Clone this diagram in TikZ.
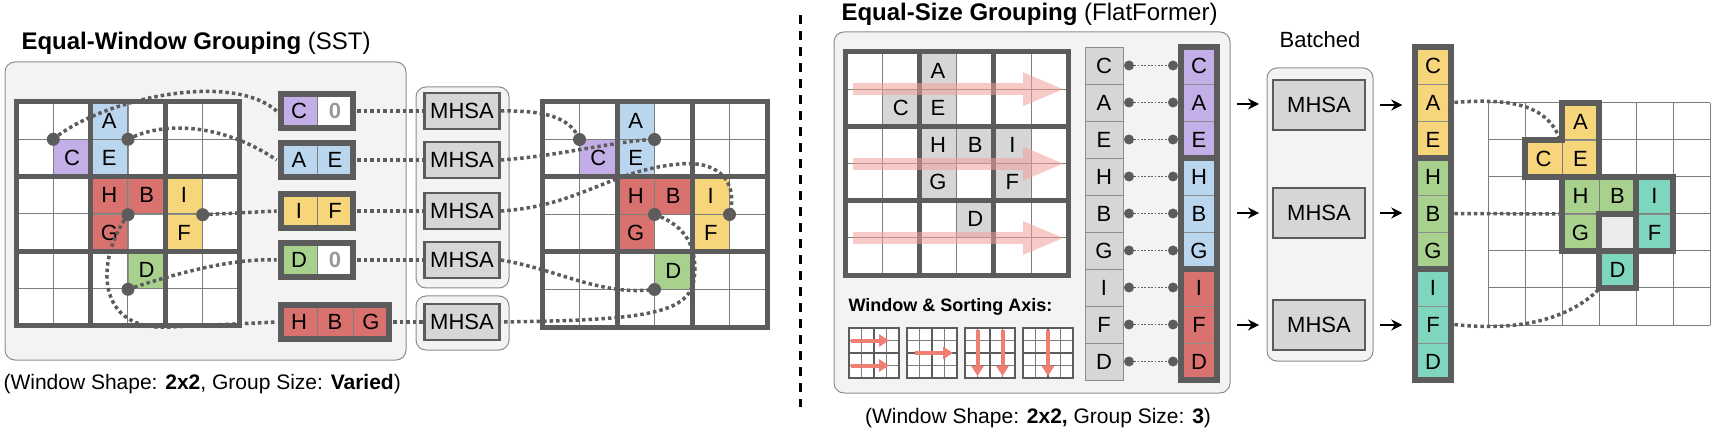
\documentclass[tikz,border=0pt]{standalone}
\usepackage{fontspec}
\setmainfont{Liberation Sans}
\usetikzlibrary{arrows.meta}
\definecolor{cpur}{HTML}{C3AEE8}
\definecolor{cblu}{HTML}{BAD5EE}
\definecolor{cred}{HTML}{D9726F}
\definecolor{cyel}{HTML}{F7D57A}
\definecolor{cgrn}{HTML}{A9D18E}
\definecolor{cteal}{HTML}{7FD6BF}
\definecolor{cgray}{HTML}{D6D6D6}
\definecolor{cdark}{HTML}{5C5C5C}
\definecolor{cpanel}{HTML}{F3F3F3}
\definecolor{carrow}{HTML}{F4A09A}
\definecolor{carr2}{HTML}{EE7F72}
\newcommand\fsz[1]{\fontsize{#1}{#1}\selectfont}
\tikzset{
 cellnode/.style={draw=cdark!70,line width=0.8,inner sep=0,font=\fsz{22}},
 gdot/.style={circle,fill=cdark,inner sep=0,minimum size=13},
 sdot/.style={circle,fill=cdark,inner sep=0,minimum size=10},
 conn/.style={draw=cdark,line width=3.5,dash pattern=on 3.5 off 3},
 fconn/.style={draw=cdark,line width=1.8,dash pattern=on 1.8 off 1.6},
 mhsa/.style={draw=cdark,line width=2.5,fill=cgray,minimum width=75,minimum height=36,inner sep=0,font=\fsz{22}},
 panel/.style={draw=cdark!70,line width=1,fill=cpanel,rounded corners=10},
 thickb/.style={draw=cdark,line width=6},
 smarr/.style={-{Stealth[length=11,width=11]},line width=2.4},
}
\newcommand\tcell[8]{\node[cellnode,fill=#6,minimum width=#3,minimum height=#3] (#8) at ({#1+(#4+0.5)*#3},{#2+(#5+0.5)*#3}) {#7};}
\newcommand\tgrid[4]{%
 \foreach \i in {0,...,6}{
  \draw[cdark!80,line width=1] ({#1+\i*#3},#2) -- ({#1+\i*#3},{#2+6*#3});
  \draw[cdark!80,line width=1] (#1,{#2+\i*#3}) -- ({#1+6*#3},{#2+\i*#3});}
 \ifnum#4=1
 \foreach \i in {0,2,4,6}{
  \draw[cdark,line width=5] ({#1+\i*#3},{#2-2.5}) -- ({#1+\i*#3},{#2+6*#3+2.5});
  \draw[cdark,line width=5] ({#1-2.5},{#2+\i*#3}) -- ({#1+6*#3+2.5},{#2+\i*#3});}
 \fi}
\newcommand\tokens[4]{%
 \tcell{#1}{#2}{#3}{2}{0}{\ca}{A}{#4A}
 \tcell{#1}{#2}{#3}{1}{1}{\cc}{C}{#4C}
 \tcell{#1}{#2}{#3}{2}{1}{\ca}{E}{#4E}
 \tcell{#1}{#2}{#3}{2}{2}{\ch}{H}{#4H}
 \tcell{#1}{#2}{#3}{3}{2}{\ch}{B}{#4B}
 \tcell{#1}{#2}{#3}{4}{2}{\ci}{I}{#4I}
 \tcell{#1}{#2}{#3}{2}{3}{\ch}{G}{#4G}
 \tcell{#1}{#2}{#3}{4}{3}{\ci}{F}{#4F}
 \tcell{#1}{#2}{#3}{3}{4}{\cd}{D}{#4D}}
\newcommand\icon[3]{%
 \fill[white] (#1,#2) rectangle ++(50,50);
 \foreach \i in {0,...,4}{
  \draw[cdark!80,line width=0.8] ({#1+\i*12.5},#2) -- ({#1+\i*12.5},{#2+50});
  \draw[cdark!80,line width=0.8] (#1,{#2+\i*12.5}) -- ({#1+50},{#2+\i*12.5});}
 \foreach \i in {0,2,4}{
  \draw[cdark,line width=2.5] ({#1+\i*12.5},{#2-1}) -- ({#1+\i*12.5},{#2+51});
  \draw[cdark,line width=2.5] ({#1-1},{#2+\i*12.5}) -- ({#1+51},{#2+\i*12.5});}
 \ifcase#3
  \draw[carr2,line width=4,-{Triangle[length=10,width=12]}] ({#1+2},{#2+12.5}) -- ({#1+40},{#2+12.5});
  \draw[carr2,line width=4,-{Triangle[length=10,width=12]}] ({#1+2},{#2+37.5}) -- ({#1+40},{#2+37.5});
 \or
  \draw[carr2,line width=4,-{Triangle[length=10,width=12]}] ({#1+8},{#2+25}) -- ({#1+46},{#2+25});
 \or
  \draw[carr2,line width=4,-{Triangle[length=10,width=12]}] ({#1+12.5},{#2+2}) -- ({#1+12.5},{#2+48});
  \draw[carr2,line width=4,-{Triangle[length=10,width=12]}] ({#1+37.5},{#2+2}) -- ({#1+37.5},{#2+48});
 \or
  \draw[carr2,line width=4,-{Triangle[length=10,width=12]}] ({#1+25},{#2+2}) -- ({#1+25},{#2+48});
 \fi}
\begin{document}
\begin{tikzpicture}[x=1pt,y=-1pt]
\useasboundingbox (0,0) rectangle (1713,430);
% ---------------- LEFT -----------------
\node[anchor=west,font=\fsz{24}] (t1) at (18,43) {\textbf{Equal-Window Grouping} (SST)};
\draw[panel] (5,62) rectangle (406,360);
\draw[panel] (416,87) rectangle (509,288);
\draw[panel] (416,296) rectangle (509,350);
\node[anchor=west,font=\fsz{21}] (cap1) at (0,384) {(Window Shape: \textbf{2x2}, Group Size: \textbf{Varied})};
\fill[white] (16,102) rectangle (240,326);
\def\ca{cblu}\def\cc{cpur}\def\ch{cred}\def\ci{cyel}\def\cd{cgrn}
\tokens{16}{102}{37.33}{g1}
\tgrid{16}{102}{37.33}{1}
\fill[white] (542,102) rectangle (767,327);
\tokens{542}{102}{37.5}{g2}
\tgrid{542}{102}{37.5}{1}
\node[gdot] (d1c) at (53.3,139.3) {};
\node[gdot] (d1a) at (128,139.3) {};
\node[gdot] (d1h) at (128,214.7) {};
\node[gdot] (d1i) at (202.7,214.7) {};
\node[gdot] (d1d) at (128,289.3) {};
\node[gdot] (d2c) at (579.5,139.5) {};
\node[gdot] (d2a) at (654.5,139.5) {};
\node[gdot] (d2h) at (654.5,214.5) {};
\node[gdot] (d2i) at (729.5,214.5) {};
\node[gdot] (d2d) at (654.5,289.5) {};
\begin{scope}[every node/.style={cellnode,draw=none,minimum width=36,minimum height=34}]
\node[fill=cpur] (bC) at (299,111) {C};
\node[fill=white,text=black!40,font=\fsz{22}\bfseries] (bC0) at (335,111) {0};
\node[fill=cblu] (bA) at (299,160) {A};
\node[fill=cblu] (bE) at (335,160) {E};
\node[fill=cyel] (bI) at (299,211) {I};
\node[fill=cyel] (bF) at (335,211) {F};
\node[fill=cgrn] (bD) at (299,260) {D};
\node[fill=white,text=black!40,font=\fsz{22}\bfseries] (bD0) at (335,260) {0};
\node[fill=cred] (bH) at (299,322) {H};
\node[fill=cred] (bB) at (335,322) {B};
\node[fill=cred] (bG) at (371,322) {G};
\end{scope}
\foreach \y in {111,160,211,260}{
 \draw[cdark!80,line width=1] (317,\y-17) -- (317,\y+17);
 \draw[thickb] (281,\y-17) rectangle (353,\y+17);}
\draw[cdark!80,line width=1] (317,305) -- (317,339);
\draw[cdark!80,line width=1] (353,305) -- (353,339);
\draw[thickb] (281,305) rectangle (389,339);
\node[mhsa] (m1) at (462,111) {MHSA};
\node[mhsa] (m2) at (462,160) {MHSA};
\node[mhsa] (m3) at (462,211) {MHSA};
\node[mhsa] (m4) at (462,260) {MHSA};
\node[mhsa] (m5) at (462,322) {MHSA};
\draw[conn] (bC0.east) ++(4,0) -- (m1.west);
\draw[conn] (bE.east) ++(4,0) -- (m2.west);
\draw[conn] (bF.east) ++(4,0) -- (m3.west);
\draw[conn] (bD0.east) ++(4,0) -- (m4.west);
\draw[conn] (bG.east) ++(4,0) -- (m5.west);
\draw[conn] (d1c.center) .. controls (100,100) and (230,70) .. ([xshift=-4]bC.west);
\draw[conn] (d1a.center) .. controls (170,118) and (230,128) .. ([xshift=-4]bA.west);
\draw[conn] (d1i.center) -- ([xshift=-4]bI.west);
\draw[conn] (d1d.center) .. controls (180,272) and (235,258) .. ([xshift=-4]bD.west);
\draw[conn] (d1h.center) .. controls (95,260) and (95,332) .. (170,327) -- ([xshift=-4]bH.west);
\draw[conn] (m1.east) .. controls (555,110) and (572,122) .. (d2c.center);
\draw[conn] (m2.east) .. controls (560,156) and (620,140) .. (d2a.center);
\draw[conn] (m3.east) .. controls (580,206) and (610,170) .. (680,164) .. controls (722,160) and (738,185) .. (d2i.center);
\draw[conn] (m4.east) .. controls (560,270) and (600,296) .. (d2d.center);
\draw[conn] (d2h.center) .. controls (688,226) and (698,250) .. (694,280) .. controls (688,315) and (640,320) .. (m5.east);
\draw[black,line width=3,dash pattern=on 9 off 7] (800,15) -- (800,407);
% ---------------- RIGHT -----------------
\node[anchor=west,font=\fsz{24}] (t2) at (838,14) {\textbf{Equal-Size Grouping} (FlatFormer)};
\draw[panel] (834,32) rectangle (1230,393);
\node[font=\fsz{21}] (cap2) at (1038,418) {(Window Shape: \textbf{2x2,} Group Size: \textbf{3})};
\fill[white] (845,52) rectangle (1068,277);
\def\ca{cgray}\def\cc{cgray}\def\ch{cgray}\def\ci{cgray}\def\cd{cgray}
\begin{scope}[cellnode/.append style={draw=none}]
\tokens{845}{52}{37.2}{g3}
\end{scope}
\tgrid{845}{52}{37.2}{1}
\foreach \y in {89.2,163.6,238}{
 \fill[carrow,opacity=0.55] (853,\y-6) rectangle (1023,\y+6);
 \fill[carrow,opacity=0.55] (1023,\y-17) -- (1063,\y) -- (1023,\y+17) -- cycle;}
\node[anchor=west,font=\fsz{18}\bfseries] (wsa) at (845,307) {Window \& Sorting Axis:};
\icon{849}{328}{0}
\icon{907}{328}{1}
\icon{965}{328}{2}
\icon{1023}{328}{3}
\foreach \l [count=\k from 0] in {C,A,E,H,B,G,I,F,D}{
 \node[cellnode,fill=cgray,minimum width=38,minimum height=37] (s\l) at (1104,{65.5+37*\k}) {\l};
 \node[sdot] (sl\l) at (1129,{65.5+37*\k}) {};
 \node[sdot] (sr\l) at (1173,{65.5+37*\k}) {};
 \draw[fconn] (sl\l) -- (sr\l);}
\foreach \l/\c [count=\k from 0] in {C/cpur,A/cpur,E/cpur,H/cblu,B/cblu,G/cblu,I/cred,F/cred,D/cred}{
 \node[cellnode,fill=\c,minimum width=34,minimum height=37] (p\l) at (1199,{65.5+37*\k}) {\l};}
\foreach \k in {0,1,2}{\draw[thickb] (1181,{47+111*\k}) rectangle (1217,{158+111*\k});}
\draw[panel] (1267,68) rectangle (1373,361);
\node[font=\fsz{22}] (bt) at (1320,40) {Batched};
\node[mhsa,minimum width=92,minimum height=50] (b1) at (1319,105) {MHSA};
\node[mhsa,minimum width=92,minimum height=50] (b2) at (1319,213) {MHSA};
\node[mhsa,minimum width=92,minimum height=50] (b3) at (1319,325) {MHSA};
\coordinate (ai1) at (1237,104); \coordinate (ai2) at (1237,213); \coordinate (ai3) at (1237,325);
\draw[smarr] (ai1) -- (1259,104);
\draw[smarr] (ai2) -- (1259,213);
\draw[smarr] (ai3) -- (1259,325);
\foreach \l/\c [count=\k from 0] in {C/cyel,A/cyel,E/cyel,H/cgrn,B/cgrn,G/cgrn,I/cteal,F/cteal,D/cteal}{
 \node[cellnode,fill=\c,minimum width=34,minimum height=37] (o\l) at (1433,{65.5+37*\k}) {\l};}
\foreach \k in {0,1,2}{\draw[thickb] (1415,{47+111*\k}) rectangle (1451,{158+111*\k});}
\draw[smarr] (b1.east) ++(14,0) -- +(22,0);
\draw[smarr] (b2.east) ++(14,0) -- +(22,0);
\draw[smarr] (b3.east) ++(14,0) -- +(22,0);
\fill[white] (1488,103) rectangle (1713,325);
\def\ca{cyel}\def\cc{cyel}\def\ch{cgrn}\def\ci{cteal}\def\cd{cteal}
\tokens{1488}{103}{37}{g4}
\node[cellnode,fill=black!8,minimum width=37,minimum height=37] (gap) at (1617.5,232.5) {};
\tgrid{1488}{103}{37}{0}
\draw[thickb,line join=miter] (1562,103) -- (1599,103) -- (1599,177) -- (1525,177) -- (1525,140) -- (1562,140) -- cycle;
\draw[thickb,line join=miter] (1562,177) -- (1673,177) -- (1673,251) -- (1636,251) -- (1636,288) -- (1599,288) -- (1599,251) -- (1562,251) -- cycle;
\draw[thickb] (1599,214) rectangle (1636,251);
\draw[thickb] (1636,177) -- (1636,251);
\coordinate (ra) at (1560,139);
\coordinate (rb) at (1560,214);
\coordinate (rd) at (1598,290);
\draw[conn] ([xshift=4]oA.east) .. controls (1530,96) and (1550,115) .. (ra);
\draw[conn] ([xshift=4]oB.east) -- (rb);
\draw[conn] ([xshift=4]oF.east) .. controls (1520,332) and (1570,318) .. (rd);
\end{tikzpicture}
\end{document}
